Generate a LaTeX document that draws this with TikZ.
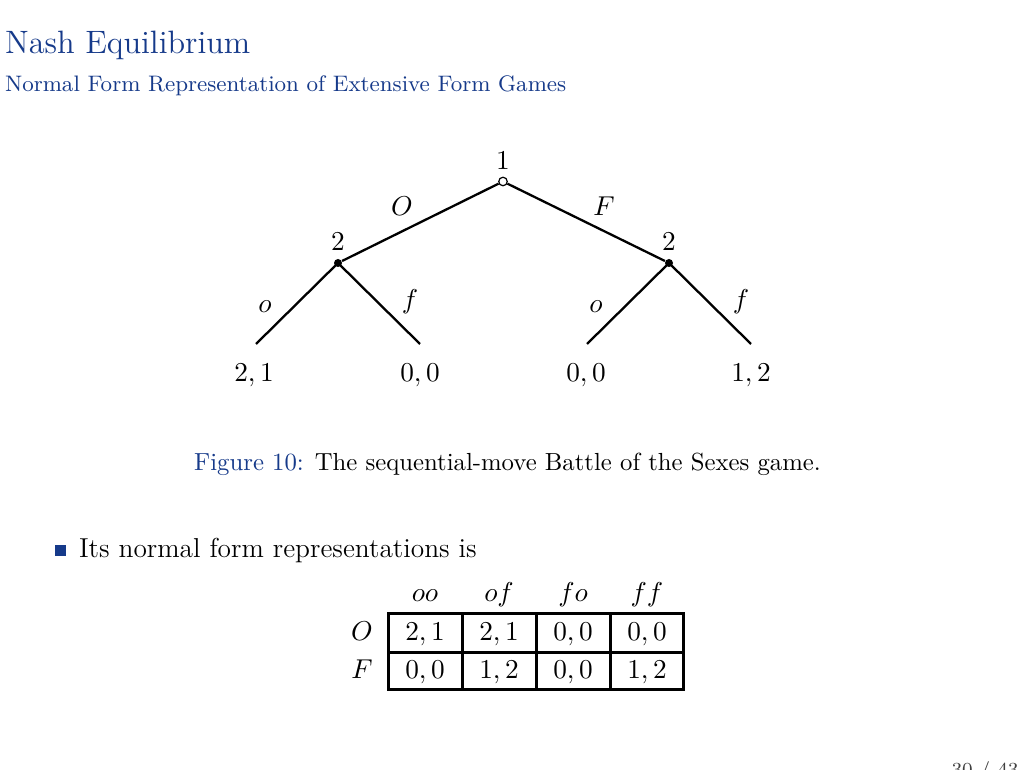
\documentclass[tikz,border=0pt]{standalone}
\usepackage{amsmath}
\definecolor{struct}{RGB}{22,58,138}
\newlength\pxl
\setlength\pxl{0.4016pt}
\begin{document}
\begin{tikzpicture}[x=\pxl,y=-\pxl,
  txt/.style={inner sep=0pt,outer sep=0pt},
  body/.style={txt,font=\fontsize{11}{13.6}\selectfont},
  capfont/.style={txt,font=\fontsize{9.93}{12}\selectfont},
  lbl/.style={txt,font=\fontsize{10.9}{13}\selectfont},
  tablbl/.style={txt,font=\fontsize{11}{13.6}\selectfont},
  treeline/.style={line width=2.3\pxl},
  tabline/.style={line width=3\pxl},
  decnode/.style={circle,fill=black,inner sep=0pt,minimum size=8\pxl},
  rootnode/.style={circle,draw=black,fill=white,line width=1.2\pxl,inner sep=0pt,minimum size=8.5\pxl}]
\useasboundingbox (0,0) rectangle (1031,770);
\fill[white] (0,0) rectangle (1031,770);
% titles
\node[txt,anchor=base west,text=struct,font=\fontsize{13}{16}\selectfont] (title) at (5,53.5) {Nash Equilibrium};
\node[txt,anchor=base west,text=struct,font=\fontsize{9}{11}\selectfont] (subtitle) at (5,92) {Normal Form Representation of Extensive Form Games};
% tree
\node[rootnode] (r) at (503,181.5) {};
\node[decnode] (a) at (338,263) {};
\node[decnode] (b) at (669,263) {};
\coordinate (l1) at (256,344);
\coordinate (l2) at (420,344);
\coordinate (l3) at (587,344);
\coordinate (l4) at (751,344);
\draw[treeline] (r) -- (a);
\draw[treeline] (r) -- (b);
\draw[treeline] (a.center) -- (l1);
\draw[treeline] (a.center) -- (l2);
\draw[treeline] (b.center) -- (l3);
\draw[treeline] (b.center) -- (l4);
\node[lbl,anchor=base] (n1) at (503,170) {$1$};
\node[lbl,anchor=base] (n2a) at (338,251) {$2$};
\node[lbl,anchor=base] (n2b) at (669,251) {$2$};
\node[lbl] (eO) at (402,206) {$O$};
\node[lbl] (eF) at (604,206) {$F$};
\node[lbl] (eo1) at (265,307) {$o$};
\node[lbl] (ef1) at (410,302) {$f$};
\node[lbl] (eo2) at (596,307) {$o$};
\node[lbl] (ef2) at (741,302) {$f$};
\node[lbl,anchor=base] (p1) at (254,382) {$2,1$};
\node[lbl,anchor=base] (p2) at (420,382) {$0,0$};
\node[lbl,anchor=base] (p3) at (586,382) {$0,0$};
\node[lbl,anchor=base] (p4) at (751,382) {$1,2$};
% caption
\node[capfont,anchor=base] (cap) at (507.5,471) {\textcolor{struct}{Figure 10:} The sequential-move Battle of the Sexes game.};
% bullet
\fill[struct] (55,545) rectangle (66,556);
\node[body,anchor=base west] (item) at (79,558) {Its normal form representations is};
% table
\node[tablbl,anchor=base] (h1) at (425,602) {$oo$};
\node[tablbl,anchor=base] (h2) at (499,602) {$of$};
\node[tablbl,anchor=base] (h3) at (573,602) {$fo$};
\node[tablbl,anchor=base] (h4) at (647,602) {$ff$};
\node[tablbl,anchor=base] (rO) at (362,641) {$O$};
\node[tablbl,anchor=base] (rF) at (362,679) {$F$};
\node[tablbl,anchor=base] (c11) at (425,641) {$2,1$};
\node[tablbl,anchor=base] (c12) at (499,641) {$2,1$};
\node[tablbl,anchor=base] (c13) at (573,641) {$0,0$};
\node[tablbl,anchor=base] (c14) at (647,641) {$0,0$};
\node[tablbl,anchor=base] (c21) at (425,679) {$0,0$};
\node[tablbl,anchor=base] (c22) at (499,679) {$1,2$};
\node[tablbl,anchor=base] (c23) at (573,679) {$0,0$};
\node[tablbl,anchor=base] (c24) at (647,679) {$1,2$};
\draw[tabline] (388.5,614) rectangle (683.5,690);
\draw[tabline] (388.5,652.5) -- (683.5,652.5);
\draw[tabline] (462,614) -- (462,690);
\draw[tabline] (536,614) -- (536,690);
\draw[tabline] (610,614) -- (610,690);
% page number
\node[txt,anchor=base,font=\fontsize{8}{10}\selectfont,text=black!75] (page) at (985,777) {30 / 43};
\end{tikzpicture}
\end{document}
